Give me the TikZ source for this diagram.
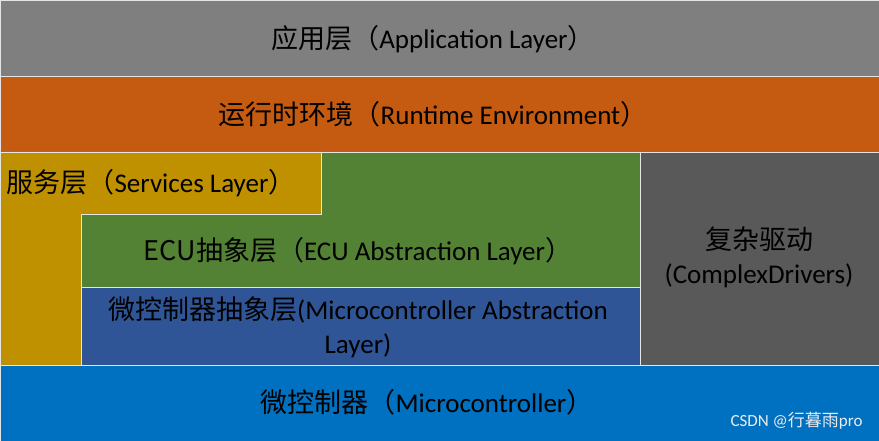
\documentclass[tikz,border=0pt]{standalone}
\usepackage{fontspec}
\setmainfont{Carlito}
\newfontfamily\cjk{Noto Sans CJK SC}
\definecolor{appc}{HTML}{7F7F7F}
\definecolor{rtec}{HTML}{C55A11}
\definecolor{srvc}{HTML}{BF9000}
\definecolor{ecuc}{HTML}{548235}
\definecolor{mcalc}{HTML}{2F5597}
\definecolor{cdc}{HTML}{595959}
\definecolor{mcuc}{HTML}{0070C0}
\begin{document}
\begin{tikzpicture}[x=1pt,y=-1pt,
  blk/.style={draw=white!80!gray,line width=0.8pt},
  lbl/.style={font=\fontsize{27}{34}\selectfont,text=black,align=center}]
\useasboundingbox (0,0) rectangle (879,441);
\fill[white] (0,0) rectangle (879,441);
\path[blk,fill=appc] (0,0) rectangle (879,76);
\path[blk,fill=rtec] (0,76) rectangle (879,152);
\path[blk,fill=srvc] (0,152) -- (321,152) -- (321,214) -- (81,214) -- (81,365) -- (0,365) -- cycle;
\path[blk,fill=ecuc] (321,152) -- (640,152) -- (640,287) -- (81,287) -- (81,214) -- (321,214) -- cycle;
\path[blk,fill=mcalc] (81,287) rectangle (640,365);
\path[blk,fill=cdc] (640,152) rectangle (879,365);
\path[blk,fill=mcuc] (0,365) rectangle (879,441);
\node[lbl] (app) at (433,39) {{\cjk 应用层（}Application Layer{\cjk ）}};
\node[lbl] (rte) at (433,114) {{\cjk 运行时环境（}Runtime Environment{\cjk ）}};
\node[lbl,anchor=west] (srv) at (3,183) {{\cjk 服务层（}Services Layer{\cjk ）}};
\node[lbl] (ecu) at (358,251) {{\cjk ECU抽象层（}ECU Abstraction Layer{\cjk ）}};
\node[lbl] (mcal) at (358,327) {{\cjk 微控制器抽象层}(Microcontroller Abstraction\\Layer)};
\node[lbl] (cd) at (759,257) {{\cjk 复杂驱动}\\(ComplexDrivers)};
\node[lbl] (mcu) at (427,402) {{\cjk 微控制器（}Microcontroller{\cjk ）}};
\node[font=\fontsize{17}{20}\selectfont,text=white!85!gray,anchor=east] (wm) at (866,421) {CSDN @{\cjk 行暮雨}pro};
\end{tikzpicture}
\end{document}
